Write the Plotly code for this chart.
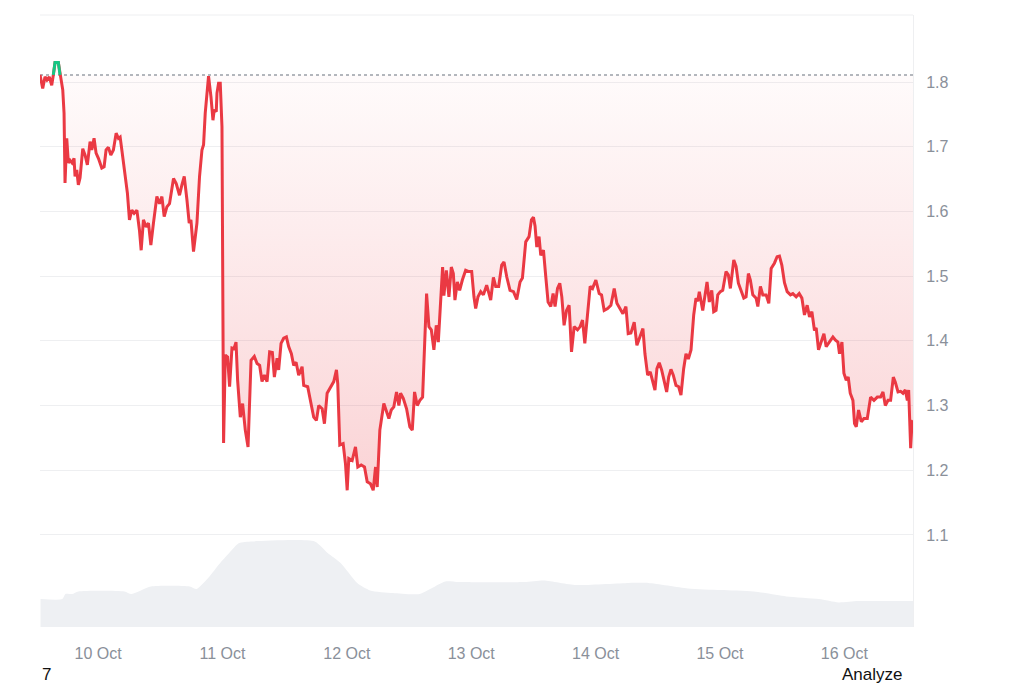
import pandas as pd
import plotly.graph_objects as go

# =====================================================
# DATA (7 day price history, hours from first sample)
# =====================================================

START = "2024-10-09 12:48"

price_hours = [
    0.00, 0.52, 0.97, 1.35, 1.80, 2.26, 2.57, 2.90, 3.54, 3.86, 4.39, 4.64, 4.83, 5.16,
    5.47, 5.80, 6.18, 6.57, 6.76, 7.09, 7.40, 7.73, 8.25, 8.70, 9.14, 9.66, 9.99, 10.43,
    10.82, 11.27, 11.92, 12.37, 12.75, 13.20, 13.66, 14.16, 14.69, 15.13, 15.46, 15.79,
    16.23, 16.48, 16.87, 17.26, 17.72, 18.16, 18.69, 19.19, 19.52, 19.96, 20.48, 20.93,
    21.39, 21.89, 22.55, 23.05, 23.52, 23.96, 24.48, 24.99, 25.26, 25.76, 26.28, 26.92,
    27.38, 27.83, 28.35, 28.79, 29.12, 29.62, 30.28, 30.78, 31.25, 31.56, 31.88, 32.52,
    32.99, 33.37, 33.62, 34.01, 34.15, 34.45, 34.78, 35.11, 35.42, 35.75, 36.19, 36.58,
    37.04, 37.43, 37.82, 38.13, 38.65, 39.09, 39.61, 40.14, 40.72, 41.35, 41.88, 42.38,
    42.84, 43.29, 43.81, 44.31, 44.83, 45.22, 45.74, 46.05, 46.51, 47.02, 47.54, 47.98,
    48.50, 48.95, 49.41, 49.91, 50.57, 50.88, 51.65, 52.04, 52.81, 53.33, 53.78, 54.44,
    54.88, 55.40, 56.04, 56.68, 57.20, 57.45, 57.84, 58.49, 58.94, 59.27, 59.58, 60.23,
    60.87, 61.32, 61.97, 62.61, 63.13, 63.77, 64.29, 64.74, 65.06, 65.57, 66.34, 67.00,
    67.31, 67.77, 68.27, 68.79, 69.24, 69.57, 70.09, 70.73, 71.36, 71.83, 72.27, 72.79,
    73.30, 73.82, 74.20, 74.59, 75.04, 75.50, 76.00, 76.46, 76.85, 77.30, 77.68, 77.93,
    78.40, 78.90, 79.36, 79.75, 80.06, 80.52, 80.97, 81.49, 82.13, 82.76, 83.29, 83.73,
    84.06, 84.51, 85.03, 85.55, 86.18, 86.63, 86.96, 87.48, 87.92, 88.50, 89.08, 89.53,
    90.05, 90.69, 91.35, 91.98, 92.62, 93.08, 93.72, 94.36, 94.82, 95.21, 95.52, 95.85,
    96.29, 96.62, 97.14, 97.59, 98.03, 98.55, 99.00, 99.38, 99.85, 100.29, 100.68, 101.12,
    101.59, 102.09, 102.55, 103.06, 103.71, 104.22, 104.68, 105.12, 105.64, 106.15, 106.61,
    107.25, 107.89, 108.35, 108.85, 109.51, 110.15, 110.79, 111.31, 111.95, 112.47, 113.05,
    113.49, 114.01, 114.65, 115.17, 115.81, 116.33, 116.72, 117.24, 117.74, 118.20, 118.65,
    119.03, 119.48, 119.94, 120.45, 120.91, 121.30, 121.74, 122.19, 122.71, 123.23, 123.67,
    124.19, 124.64, 125.09, 125.61, 126.13, 126.57, 126.90, 127.21, 127.87, 128.31, 128.70,
    129.14, 129.61, 129.99, 130.44, 130.77, 131.27, 131.73, 132.37, 132.81, 133.20, 133.86,
    134.30, 134.75, 135.27, 135.79, 136.23, 136.68, 137.06, 137.53, 138.17, 138.50, 139.00,
    139.46, 140.10, 140.62, 141.07, 141.70, 142.22, 142.67, 143.13, 143.64, 144.16, 144.80,
    145.26, 145.90, 146.48, 147.00, 147.50, 148.02, 148.47, 148.93, 149.43, 149.76, 150.21,
    150.73, 151.25, 151.69, 152.33, 152.99, 153.49, 153.95, 154.26, 154.73, 155.11, 155.56,
    155.94, 156.33, 156.85, 157.16, 157.49, 157.94, 158.46, 158.98, 159.62, 160.26, 160.91,
    161.55, 162.19, 162.65, 163.10, 163.62, 164.12, 164.64, 165.03, 165.55, 166.05, 166.51,
    166.96, 167.35, 167.60, 167.79, 167.99, 168.25, 168.44,
]

prices = [
    1.811, 1.790, 1.808, 1.803, 1.808, 1.795, 1.811, 1.830, 1.830, 1.811, 1.788, 1.752, 1.644, 1.713,
    1.675, 1.679, 1.675, 1.682, 1.654, 1.664, 1.641, 1.652, 1.697, 1.687, 1.672, 1.708, 1.695, 1.713,
    1.690, 1.682, 1.667, 1.669, 1.695, 1.699, 1.687, 1.695, 1.721, 1.713, 1.715, 1.695,
    1.664, 1.654, 1.628, 1.587, 1.602, 1.597, 1.602, 1.571, 1.540, 1.587, 1.576, 1.582,
    1.548, 1.582, 1.623, 1.612, 1.623, 1.592, 1.607, 1.612, 1.625, 1.651, 1.643, 1.625,
    1.641, 1.654, 1.618, 1.582, 1.587, 1.538, 1.582, 1.654, 1.695, 1.703, 1.752, 1.809,
    1.777, 1.741, 1.757, 1.754, 1.783, 1.798, 1.798, 1.731, 1.242, 1.378, 1.375, 1.329,
    1.389, 1.388, 1.398, 1.339, 1.282, 1.303, 1.262, 1.236, 1.370, 1.376, 1.365, 1.362,
    1.337, 1.347, 1.337, 1.383, 1.382, 1.344, 1.373, 1.355, 1.396, 1.404, 1.406, 1.391,
    1.380, 1.362, 1.367, 1.347, 1.360, 1.331, 1.329, 1.311, 1.282, 1.277, 1.300, 1.295,
    1.272, 1.319, 1.329, 1.337, 1.355, 1.334, 1.239, 1.241, 1.210, 1.169, 1.218, 1.215,
    1.236, 1.205, 1.208, 1.205, 1.182, 1.179, 1.169, 1.205, 1.174, 1.262, 1.303, 1.288,
    1.280, 1.293, 1.298, 1.321, 1.300, 1.319, 1.311, 1.295, 1.267, 1.262, 1.321, 1.300,
    1.308, 1.313, 1.391, 1.473, 1.422, 1.417, 1.386, 1.424, 1.398, 1.468, 1.514, 1.470,
    1.509, 1.468, 1.514, 1.504, 1.463, 1.491, 1.478, 1.494, 1.509, 1.507, 1.507, 1.468,
    1.450, 1.468, 1.476, 1.471, 1.486, 1.473, 1.463, 1.498, 1.484, 1.484, 1.517, 1.522,
    1.499, 1.478, 1.476, 1.464, 1.491, 1.497, 1.553, 1.561, 1.587, 1.591, 1.577, 1.545,
    1.561, 1.532, 1.540, 1.499, 1.460, 1.453, 1.473, 1.453, 1.481, 1.489, 1.468, 1.424,
    1.447, 1.455, 1.383, 1.422, 1.417, 1.422, 1.432, 1.396, 1.447, 1.484, 1.481,
    1.494, 1.473, 1.471, 1.447, 1.450, 1.455, 1.481, 1.458, 1.450, 1.442, 1.453,
    1.411, 1.412, 1.429, 1.393, 1.406, 1.419, 1.380, 1.347, 1.352, 1.339, 1.324,
    1.357, 1.366, 1.355, 1.334, 1.321, 1.344, 1.356, 1.347, 1.331, 1.329, 1.316,
    1.357, 1.380, 1.372, 1.386, 1.440, 1.466, 1.461, 1.476, 1.447, 1.473, 1.491,
    1.460, 1.478, 1.445, 1.447, 1.471, 1.476, 1.478, 1.507, 1.502, 1.481, 1.525,
    1.515, 1.489, 1.478, 1.466, 1.468, 1.504, 1.494, 1.471, 1.466, 1.453, 1.484,
    1.471, 1.471, 1.458, 1.512, 1.520, 1.530, 1.531, 1.517, 1.490, 1.476, 1.471,
    1.473, 1.468, 1.473, 1.466, 1.440, 1.455, 1.437, 1.445, 1.416, 1.420, 1.386,
    1.398, 1.411, 1.391, 1.398, 1.406, 1.401, 1.398, 1.380, 1.398, 1.350, 1.339,
    1.344, 1.319, 1.308, 1.272, 1.267, 1.293, 1.275, 1.280, 1.280, 1.313, 1.308,
    1.313, 1.313, 1.321, 1.300, 1.308, 1.308, 1.344, 1.336, 1.321, 1.322, 1.319,
    1.324, 1.308, 1.324, 1.277, 1.234, 1.275, 1.277,
]

volume_hours = [
    0.1, 4.3, 4.9, 6.2, 7.4, 16.3, 17.6, 21.4, 28.9, 30.2, 32.7, 34.6, 36.5, 38.4, 40.9,
    53.0, 55.5, 58.0, 61.2, 63.7, 68.1, 73.2, 78.2, 80.8, 93.4, 97.2, 103.5, 113.6,
    117.4, 125.0, 131.3, 137.7, 144.0, 150.3, 154.1, 157.9, 168.0, 168.44,
]

volumes = [
    14.0, 14.0, 16.5, 16.5, 17.8, 17.8, 16.5, 20.3, 20.3, 19.0, 25.3, 31.5, 37.0, 42.0, 42.8,
    42.8, 37.0, 32.0, 22.0, 18.3, 17.0, 16.5, 22.8, 22.5, 22.5, 23.3, 21.0, 22.0,
    22.0, 19.3, 18.5, 17.8, 15.3, 14.0, 12.3, 13.0, 13.0, 13.0,
]

price_ticks = [1.1, 1.2, 1.3, 1.4, 1.5, 1.6, 1.7, 1.8]

RED = "#ea3943"
GREEN = "#16c784"
GREY_TEXT = "#8a909a"

# =====================================================
# BUILD
# =====================================================

t0 = pd.Timestamp(START)
times = [t0 + pd.Timedelta(hours=h) for h in price_hours]
vol_times = [t0 + pd.Timedelta(hours=h) for h in volume_hours]
base = prices[0]
above = [p if p >= base else None for p in prices]

fig = go.Figure()

# volume area (own hidden axis)
fig.add_trace(
    go.Scatter(
        x=vol_times,
        y=volumes,
        yaxis="y2",
        mode="lines",
        line=dict(width=0, shape="spline", smoothing=0.6),
        fill="tozeroy",
        fillcolor="#eef0f3",
        hoverinfo="skip",
    )
)

# dotted reference line at first price
fig.add_trace(
    go.Scatter(
        x=[times[0], times[-1]],
        y=[base, base],
        mode="lines",
        line=dict(color="#9aa0a8", width=1.5, dash="dot"),
        hoverinfo="skip",
    )
)

# price line with gradient fill up to the reference line
fig.add_trace(
    go.Scatter(
        x=times,
        y=prices,
        mode="lines",
        line=dict(color=RED, width=3),
        fill="tonexty",
        fillgradient=dict(
            type="vertical",
            start=min(prices),
            stop=base,
            colorscale=[[0, "rgba(234,57,67,0.22)"], [1, "rgba(234,57,67,0.02)"]],
        ),
    )
)

# part above the start price
fig.add_trace(
    go.Scatter(
        x=times,
        y=above,
        mode="lines",
        line=dict(color=GREEN, width=3),
        connectgaps=False,
    )
)

# page body adds an 8px offset, so the figure is sized to fit the window
fig.update_layout(
    width=1016,
    height=675,
    margin=dict(l=32, r=111, t=7, b=56),
    paper_bgcolor="white",
    plot_bgcolor="white",
    showlegend=False,
    font=dict(family="Liberation Sans, Arial, sans-serif", size=16, color=GREY_TEXT),
    xaxis=dict(
        type="date",
        range=[times[0], times[-1]],
        tick0="2024-10-10",
        dtick=86400000,
        tickformat="%-d %b",
        showgrid=False,
        zeroline=False,
        showline=False,
        ticks="outside",
        ticklen=12,
        tickcolor="rgba(0,0,0,0)",
    ),
    yaxis=dict(
        side="right",
        range=[0.9577, 1.9036],
        tickvals=price_ticks,
        ticktext=[f"{v:.1f}" for v in price_ticks],
        showgrid=True,
        gridcolor="#eeeff1",
        gridwidth=1,
        zeroline=False,
        showline=True,
        linecolor="#eeeff1",
        ticks="outside",
        ticklen=9,
        tickcolor="rgba(0,0,0,0)",
    ),
    yaxis2=dict(
        overlaying="y",
        range=[0, 306],
        visible=False,
    ),
)

# top edge of the plot area
fig.add_shape(
    type="line",
    xref="paper",
    yref="paper",
    x0=0,
    x1=1,
    y0=1,
    y1=1,
    line=dict(color="#eeeff1", width=1),
)

fig.add_annotation(
    text="7",
    xref="paper",
    yref="paper",
    x=0.0,
    y=-0.078,
    xanchor="left",
    yanchor="middle",
    showarrow=False,
    font=dict(size=17, color="#111111"),
)

fig.add_annotation(
    text="Analyze",
    xref="paper",
    yref="paper",
    x=0.99,
    y=-0.078,
    xanchor="right",
    yanchor="middle",
    showarrow=False,
    font=dict(size=17, color="#111111"),
)

fig.write_html("out.html")
